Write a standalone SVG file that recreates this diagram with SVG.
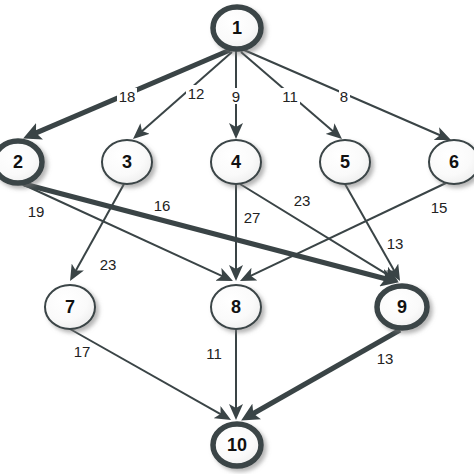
<svg xmlns="http://www.w3.org/2000/svg" width="474" height="474" viewBox="0 0 474 474">
<style>
.e{fill:none;stroke:#3a4446;stroke-width:2}
.t{stroke-width:5}
.n{fill:url(#g);stroke:#3a4446;stroke-width:2;filter:url(#sh)}
.nt{stroke-width:5.5}
.nl{font-family:"Liberation Sans",Arial,sans-serif;font-weight:bold;font-size:18px;fill:#111;text-anchor:middle;dominant-baseline:central}
.el{font-family:"Liberation Sans",Arial,sans-serif;font-size:15px;fill:#222;text-anchor:middle;dominant-baseline:central}
.bg{fill:#fff}
</style>
<defs>
<radialGradient id="g" cx="0.4" cy="0.35" r="0.75"><stop offset="0" stop-color="#ffffff"/><stop offset="0.6" stop-color="#fafafa"/><stop offset="1" stop-color="#ebebeb"/></radialGradient>
<filter id="sh" x="-30%" y="-30%" width="170%" height="170%"><feDropShadow dx="3" dy="3" stdDeviation="2" flood-color="#777" flood-opacity="0.55"/></filter>
<marker id="a" markerUnits="userSpaceOnUse" markerWidth="16" markerHeight="14" viewBox="0 0 16 14" refX="6" refY="7" orient="auto"><path d="M0,0 L16,7 L0,14 L4,7 Z" fill="#3a4446"/></marker>
<marker id="b" markerUnits="userSpaceOnUse" markerWidth="18" markerHeight="18" viewBox="0 0 18 18" refX="7" refY="9" orient="auto"><path d="M0,0 L18,9 L0,18 L4,9 Z" fill="#3a4446"/></marker>
</defs>
<rect width="474" height="474" fill="#fff"/>
<g id="connectors">
<path class="e t" d="M230,50 L33.2,134.1" marker-end="url(#b)"/>
<path class="e" d="M232,52 L140.5,132.4" marker-end="url(#a)"/>
<path class="e" d="M236,51 L236,129" marker-end="url(#a)"/>
<path class="e" d="M241,52 L334.4,132.5" marker-end="url(#a)"/>
<path class="e" d="M244,50 L441.8,136" marker-end="url(#a)"/>
<path class="e" d="M22,184 L223.9,276.8" marker-end="url(#a)"/>
<path class="e" d="M124,184 L74.9,272.3" marker-end="url(#a)"/>
<path class="e" d="M236,184 L236,271" marker-end="url(#a)"/>
<path class="e" d="M240,184 L389.5,275.8" marker-end="url(#a)"/>
<path class="e" d="M345,184 L395.1,272.3" marker-end="url(#a)"/>
<path class="e" d="M446,183 L249,276.7" marker-end="url(#a)"/>
<path class="e t" d="M24,184 L388.3,279.5" marker-end="url(#b)"/>
<path class="e" d="M70,329 L222.3,415.1" marker-end="url(#a)"/>
<path class="e" d="M236,329 L236,410" marker-end="url(#a)"/>
<path class="e t" d="M400,330 L250.7,415" marker-end="url(#b)"/>
<rect class="bg" x="117" y="88" width="20" height="16"/>
<rect class="bg" x="186" y="85" width="20" height="16"/>
<rect class="bg" x="230" y="88" width="12" height="16"/>
<rect class="bg" x="280" y="88" width="20" height="16"/>
<rect class="bg" x="339" y="88" width="11" height="16"/>
<text class="el" x="127" y="96">18</text>
<text class="el" x="196" y="93">12</text>
<text class="el" x="236" y="96">9</text>
<text class="el" x="290" y="96">11</text>
<text class="el" x="344" y="96">8</text>
<text class="el" x="36" y="211">19</text>
<text class="el" x="162" y="205">16</text>
<text class="el" x="252" y="217">27</text>
<text class="el" x="302" y="200">23</text>
<text class="el" x="439" y="207">15</text>
<text class="el" x="395" y="243">13</text>
<text class="el" x="108" y="264">23</text>
<text class="el" x="82" y="351">17</text>
<text class="el" x="214" y="353">11</text>
<text class="el" x="385" y="358">13</text>
</g>
<g id="n1"><ellipse class="n nt" cx="237" cy="28" rx="24" ry="21"/><text class="nl" x="237" y="28">1</text></g>
<g id="n2"><ellipse class="n nt" cx="18" cy="162" rx="24" ry="21"/><text class="nl" x="18" y="162">2</text></g>
<g id="n3"><ellipse class="n" cx="127" cy="162" rx="25" ry="22"/><text class="nl" x="127" y="162">3</text></g>
<g id="n4"><ellipse class="n" cx="236" cy="162" rx="25" ry="22"/><text class="nl" x="236" y="162">4</text></g>
<g id="n5"><ellipse class="n" cx="345" cy="162" rx="25" ry="22"/><text class="nl" x="345" y="162">5</text></g>
<g id="n6"><ellipse class="n" cx="454" cy="162" rx="25" ry="22"/><text class="nl" x="454" y="162">6</text></g>
<g id="n7"><ellipse class="n" cx="70" cy="307" rx="25" ry="22"/><text class="nl" x="70" y="307">7</text></g>
<g id="n8"><ellipse class="n" cx="236" cy="307" rx="25" ry="22"/><text class="nl" x="236" y="307">8</text></g>
<g id="n9"><ellipse class="n nt" cx="402" cy="307" rx="25" ry="21"/><text class="nl" x="402" y="307">9</text></g>
<g id="n10"><ellipse class="n nt" cx="237" cy="445" rx="24" ry="21"/><text class="nl" x="237" y="445">10</text></g>
</svg>
